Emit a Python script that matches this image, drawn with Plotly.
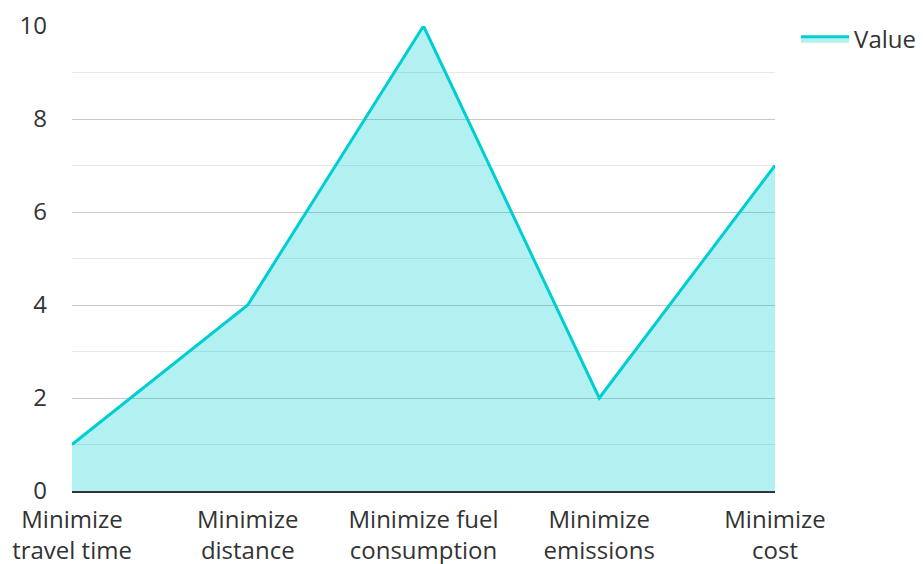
import plotly.graph_objects as go

categories = ["Minimize<br>travel time", "Minimize<br>distance", "Minimize fuel<br>consumption",
              "Minimize<br>emissions", "Minimize<br>cost"]
values = [1, 4, 10, 2, 7]
series_name = "Value"

fig = go.Figure()
fig.add_trace(go.Scatter(
    x=categories, y=values, name=series_name, mode="lines",
    line=dict(color="#00CED1", width=3),
    fill="tozeroy", fillcolor="rgba(0,206,209,0.3)",
))

fig.update_layout(
    width=923, height=564,
    margin=dict(l=64, r=156, t=9, b=81),
    paper_bgcolor="white", plot_bgcolor="white",
    font=dict(family="Open Sans", size=24, color="#333333"),
    showlegend=True,
    legend=dict(x=1.03, y=1.02, xanchor="left", yanchor="top", itemwidth=48,
                font=dict(size=24, color="#333333"), bgcolor="rgba(0,0,0,0)"),
    xaxis=dict(
        range=[0, 4], showgrid=False, zeroline=False, automargin=False,
        showline=True, linecolor="#333333", linewidth=2,
        ticks="", tickfont=dict(size=24, color="#333333"),
        ticklabelstandoff=6,
    ),
    yaxis=dict(
        range=[0, 10], dtick=2, showline=False, zeroline=False, automargin=False,
        gridcolor="#c8c8c8", gridwidth=1, ticks="",
        tickfont=dict(size=24, color="#333333"),
        minor=dict(dtick=1, showgrid=True, gridcolor="#e8e8e8", gridwidth=1),
        ticklabelstandoff=24,
    ),
)

fig.write_html("out.html")
